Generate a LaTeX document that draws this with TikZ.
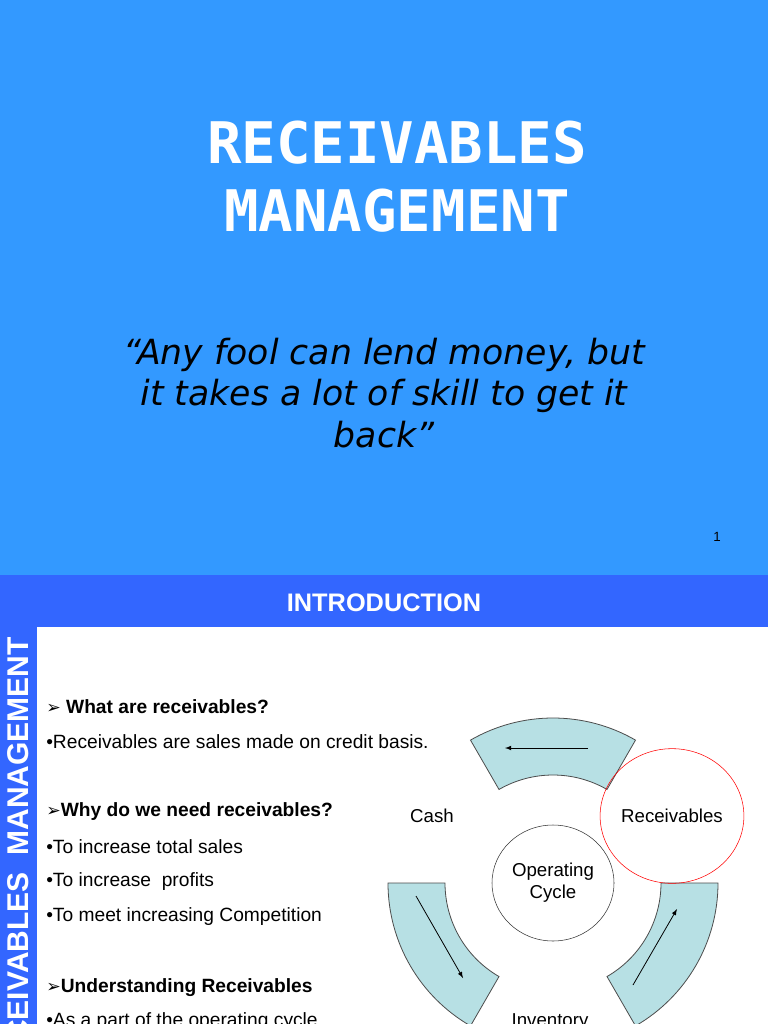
\documentclass[tikz,border=0pt]{standalone}
\usetikzlibrary{shapes.geometric}
\usepackage{fontspec}
\setmainfont{Liberation Sans}
\newfontfamily\monob{DejaVu Sans Mono}
\newfontfamily\dv{DejaVu Sans}
\definecolor{topblue}{RGB}{51,153,255}
\definecolor{barblue}{RGB}{51,102,255}
\definecolor{segfill}{RGB}{183,224,228}
\begin{document}
\begin{tikzpicture}[x=0.75pt,y=-0.75pt,
  seg/.style={draw=black!70,fill=segfill,line width=0.6pt},
  item/.style={anchor=west,inner sep=0,font=\fontsize{14.4}{17}\selectfont},
  lbl/.style={font=\fontsize{14}{16.5}\selectfont,inner sep=0}]
\useasboundingbox (0,0) rectangle (768,1024);
\fill[topblue] (0,0) rectangle (768,575);
\fill[barblue] (0,575) rectangle (768,1024);
\fill[white] (37,627) rectangle (768,1024);
% slide 1
\node[text=white,align=center,font=\monob\bfseries\fontsize{43}{51}\selectfont] (title) at (397,177) {RECEIVABLES\\MANAGEMENT};
\node[align=center,font=\dv\itshape\fontsize{26}{31}\selectfont] (quote) at (384,393) {“Any fool can lend money, but\\it takes a lot of skill to get it\\back”};
\node[font=\fontsize{10}{12}\selectfont] (pnum) at (717,537) {1};
% slide 2
\node[text=white,font=\bfseries\fontsize{19}{22}\selectfont] (intro) at (384,603) {INTRODUCTION};
\begin{scope}
\clip (0,627) rectangle (37,1024);
\node[text=white,rotate=90,anchor=east,inner sep=0,font=\bfseries\fontsize{22.5}{26}\selectfont] (side) at (18,637) {RECEIVABLES\ \ MANAGEMENT};
\end{scope}
\node[item] (a1) at (46,707) {{\dv\fontsize{13}{14}\selectfont ➢} \textbf{What are receivables?}};
\node[item] (a2) at (46,742) {•Receivables are sales made on credit basis.};
\node[item] (b1) at (46,812) {{\dv\fontsize{13}{14}\selectfont ➢}\textbf{Why do we need receivables?}};
\node[item] (b2) at (46,847) {•To increase total sales};
\node[item] (b3) at (46,882) {•To increase\ \ profits};
\node[item] (b4) at (46,917) {•To meet increasing Competition};
\node[item] (c1) at (46,988) {{\dv\fontsize{13}{14}\selectfont ➢}\textbf{Understanding Receivables}};
\node[item] (c2) at (46,1022) {•As a part of the operating cycle};
% cycle (angles measured clockwise because y points down)
\begin{scope}[shift={(553,883)}]
\draw[seg] (240:165) arc[start angle=240,end angle=300,radius=165] -- (300:108) arc[start angle=300,end angle=240,radius=108] -- cycle;
\draw[seg] (120:165) arc[start angle=120,end angle=180,radius=165] -- (180:108) arc[start angle=180,end angle=120,radius=108] -- cycle;
\draw[seg] (0:165) arc[start angle=0,end angle=60,radius=165] -- (60:108) arc[start angle=60,end angle=0,radius=108] -- cycle;
\end{scope}
\coordinate (t1) at (588,748); \coordinate (t2) at (505,748);
\coordinate (l1) at (416,896); \coordinate (l2) at (463,978);
\coordinate (r1) at (633,985); \coordinate (r2) at (677,909);
\draw[-latex,line width=0.6pt] (t1) -- (t2);
\draw[-latex,line width=0.6pt] (l1) -- (l2);
\draw[-latex,line width=0.6pt] (r1) -- (r2);
\node[draw=black!80,ellipse,minimum width=91.5pt,minimum height=87pt,inner sep=0,align=center,lbl] (op) at (553,883) {Operating\\Cycle};
\node[draw=red,ellipse,minimum width=106pt,minimum height=101pt,inner sep=0,lbl] (rec) at (672,816) {Receivables};
\node[lbl] (cash) at (432,816) {Cash};
\node[lbl] (inv) at (550,1022) {Inventory};
\end{tikzpicture}
\end{document}
